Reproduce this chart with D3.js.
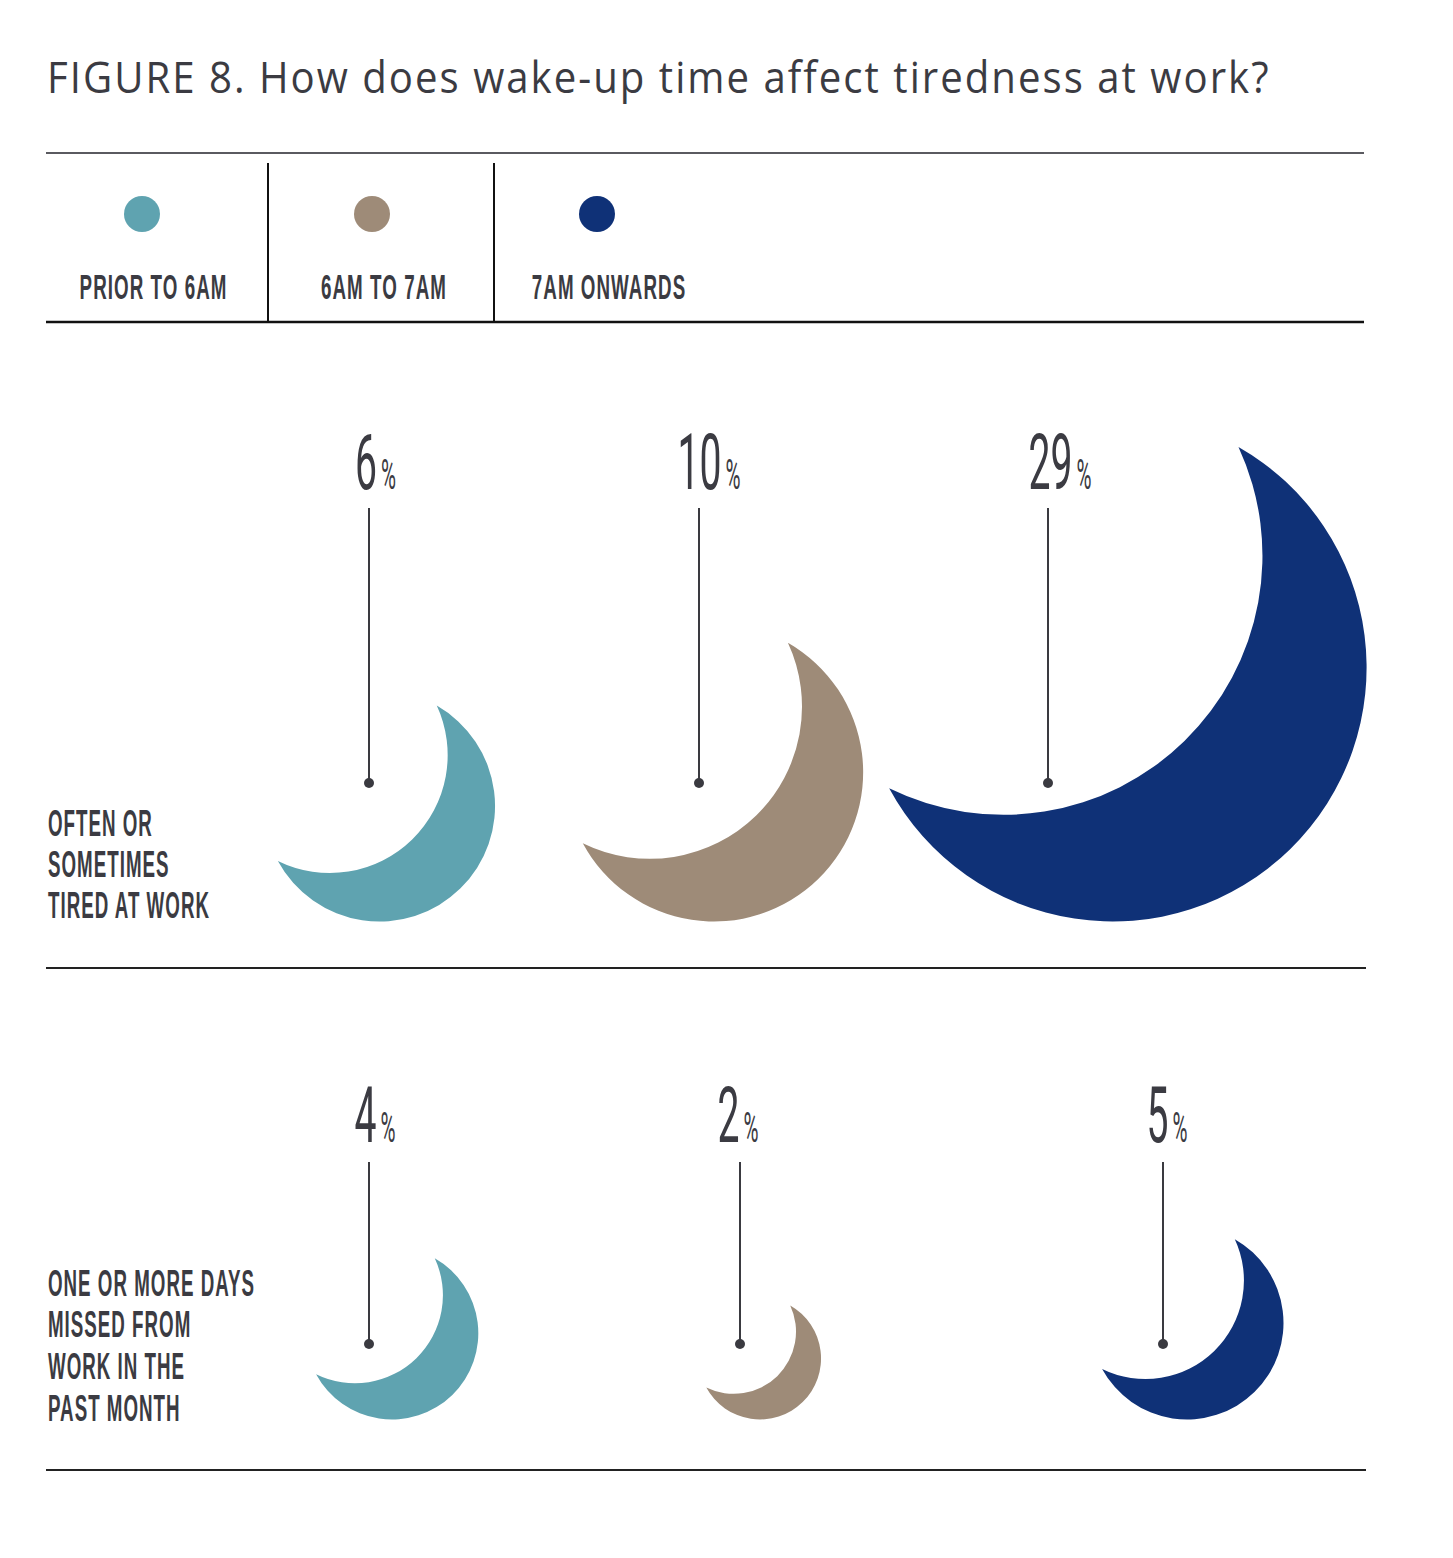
<!DOCTYPE html>
<html>
<head>
<meta charset="utf-8">
<script src="https://cdn.jsdelivr.net/npm/d3@7"></script>
<style>
  html, body { margin: 0; padding: 0; background: #ffffff; }
  svg { display: block; }
</style>
</head>
<body>
<div id="chart"></div>
<script>
// ---------------- DATA ----------------
const titleText = "FIGURE 8. How does wake-up time affect tiredness at work?";
const categories = ["PRIOR TO 6AM", "6AM TO 7AM", "7AM ONWARDS"];
const categoryColors = ["#5fa3b0", "#9e8b78", "#0f3177"];
const tiredValues = [6, 10, 29];          // often or sometimes tired at work (%)
const missedValues = [4, 2, 5];           // one or more days missed in past month (%)
const tiredLabel = ["OFTEN OR", "SOMETIMES", "TIRED AT WORK"];
const missedLabel = ["ONE OR MORE DAYS", "MISSED FROM", "WORK IN THE", "PAST MONTH"];

// ---------------- LAYOUT ----------------
const W = 1453, H = 1558;
const textColor = "#3b3b42";
const numFont = "Roboto, 'Noto Sans', sans-serif";
const labFont = "'Liberation Sans', Arial, sans-serif";

const svg = d3.select("#chart").append("svg")
  .attr("width", W).attr("height", H)
  .attr("viewBox", `0 0 ${W} ${H}`);

const colorScale = d3.scaleOrdinal().domain(categories).range(categoryColors);

// helper: measure natural width of a string in a given font
function measure(str, size, weight, family, spacing) {
  const t = svg.append("text").attr("font-size", size).attr("font-weight", weight)
    .attr("font-family", family).attr("letter-spacing", spacing || 0)
    .attr("x", -9999).attr("y", -9999).text(str);
  const w = t.node().getComputedTextLength();
  t.remove();
  return w;
}

// Title
const titleSize = 44, titleSpacing = 2.2;
const titleFont = "'Open Sans', 'Noto Sans', sans-serif";
const titleNat = measure(titleText, titleSize, 400, titleFont, titleSpacing);
const titleSx = (1271 - 47) / titleNat;
svg.append("text")
  .attr("transform", `translate(47,93) scale(${titleSx},1)`)
  .attr("font-family", titleFont).attr("font-size", titleSize).attr("font-weight", 400)
  .attr("letter-spacing", titleSpacing)
  .attr("fill", textColor)
  .text(titleText);

// condensing factors calibrated on reference strings
const labelSize = 35.5, labelWeight = 700, labelSpacing = 2;
const labelSx = 148 / measure("PRIOR TO 6AM", labelSize, labelWeight, labFont, labelSpacing);
const rowLabelSize = 36.9;
const rowSx = 162 / measure("TIRED AT WORK", rowLabelSize, labelWeight, labFont, labelSpacing);
const numSize = 77, numWeight = 400;
const numSx = 44 / measure("29", numSize, numWeight, numFont);
const pctSize = 42;
const pctSx = 15 / measure("%", pctSize, 400, numFont);

// Rules
const rules = [
  { y: 153, x1: 46, x2: 1364, c: "#5a5a60", w: 2 },
  { y: 322, x1: 46, x2: 1364, c: "#111111", w: 2.4 },
  { y: 968, x1: 46, x2: 1366, c: "#222222", w: 2.2 },
  { y: 1470, x1: 46, x2: 1366, c: "#222222", w: 2.2 }
];
svg.selectAll("line.rule").data(rules).join("line").attr("class", "rule")
  .attr("x1", d => d.x1).attr("x2", d => d.x2).attr("y1", d => d.y).attr("y2", d => d.y)
  .attr("stroke", d => d.c).attr("stroke-width", d => d.w);

// Legend
const legendCell = d3.scaleOrdinal().domain(categories).range([46, 268, 494]);
svg.selectAll("line.sep").data(categories.slice(1)).join("line").attr("class", "sep")
  .attr("x1", d => legendCell(d)).attr("x2", d => legendCell(d))
  .attr("y1", 163).attr("y2", 322)
  .attr("stroke", "#111").attr("stroke-width", 2);
const legendCircleX = d3.scaleOrdinal().domain(categories).range([142, 372, 597]);
const legendTextX = d3.scaleOrdinal().domain(categories).range([153.5, 384, 609]);
svg.selectAll("circle.leg").data(categories).join("circle").attr("class", "leg")
  .attr("cx", d => legendCircleX(d)).attr("cy", 214).attr("r", 18)
  .attr("fill", d => colorScale(d));
svg.selectAll("text.leg").data(categories).join("text").attr("class", "leg")
  .attr("transform", d => `translate(${legendTextX(d)},299) scale(${labelSx},1)`)
  .attr("text-anchor", "middle")
  .attr("font-family", labFont).attr("font-size", labelSize).attr("font-weight", labelWeight)
  .attr("letter-spacing", labelSpacing)
  .attr("fill", textColor)
  .text(d => d);

// Rows of crescents
const rows = [
  {
    values: tiredValues, label: tiredLabel,
    r: d3.scaleSqrt().domain([0, 29]).range([0, 254]),
    lineX: d3.scaleOrdinal().domain(categories).range([369, 699, 1048]),
    moonX: d3.scaleOrdinal().domain(categories).range([379.5, 714, 1112.6]),
    base: 921.5, numBase: 488.5, lineTop: 508, dotY: 783,
    labelBase: 835.7, labelStep: 41.3
  },
  {
    values: missedValues, label: missedLabel,
    r: d3.scaleSqrt().domain([0, 5]).range([0, 96.5]),
    lineX: d3.scaleOrdinal().domain(categories).range([369, 740, 1163]),
    moonX: d3.scaleOrdinal().domain(categories).range([392, 760, 1187]),
    base: 1419.5, numBase: 1142, lineTop: 1162, dotY: 1344,
    labelBase: 1295.7, labelStep: 41.7
  }
];
const labelShift = [[6.5, 10, 12], [6, -2, 4]];

function crescentPath(cx, cy, R) {
  const ox = -0.43 * R, oy = -0.44 * R, r2 = 1.02 * R;
  const d = Math.hypot(ox, oy);
  const a = (R * R - r2 * r2 + d * d) / (2 * d);
  const h = Math.sqrt(R * R - a * a);
  const ux = ox / d, uy = oy / d;
  const px = -uy, py = ux;
  const mx = cx + a * ux, my = cy + a * uy;
  const p1 = [mx + h * px, my + h * py];   // upper tip
  const p2 = [mx - h * px, my - h * py];   // left tip
  return `M${p1[0]},${p1[1]} A${R},${R} 0 1 1 ${p2[0]},${p2[1]} A${r2},${r2} 0 0 0 ${p1[0]},${p1[1]} Z`;
}

rows.forEach((row, ri) => {
  const g = svg.append("g").attr("class", "row" + ri);
  const items = categories.map((c, i) => ({ cat: c, v: row.values[i], i }));

  // crescents
  g.selectAll("path.moon").data(items).join("path").attr("class", "moon")
    .attr("d", d => {
      const R = row.r(d.v);
      return crescentPath(row.moonX(d.cat), row.base - R, R);
    })
    .attr("fill", d => colorScale(d.cat));

  // leader lines + dots
  g.selectAll("line.lead").data(items).join("line").attr("class", "lead")
    .attr("x1", d => row.lineX(d.cat)).attr("x2", d => row.lineX(d.cat))
    .attr("y1", row.lineTop).attr("y2", row.dotY)
    .attr("stroke", "#3a3a40").attr("stroke-width", 2);
  g.selectAll("circle.dot").data(items).join("circle").attr("class", "dot")
    .attr("cx", d => row.lineX(d.cat)).attr("cy", row.dotY).attr("r", 5)
    .attr("fill", "#3a3a40");

  // value labels
  items.forEach(d => {
    const numStr = String(d.v);
    const nw = measure(numStr, numSize, numWeight, numFont) * numSx;
    const pw = measure("%", pctSize, 400, numFont) * pctSx;
    const gap = 4;
    const total = nw + gap + pw;
    const left = row.lineX(d.cat) + labelShift[ri][d.i] - total / 2;
    g.append("text")
      .attr("transform", `translate(${left},${row.numBase}) scale(${numSx},1)`)
      .attr("font-family", numFont).attr("font-size", numSize).attr("font-weight", numWeight)
      .attr("fill", textColor).text(numStr);
    g.append("text")
      .attr("transform", `translate(${left + nw + gap},${row.numBase}) scale(${pctSx},1)`)
      .attr("font-family", numFont).attr("font-size", pctSize).attr("font-weight", 400)
      .attr("fill", textColor).text("%");
  });

  // row label (one multi-line text)
  const lab = g.append("text").attr("class", "rowlab")
    .attr("transform", `translate(48,${row.labelBase}) scale(${rowSx},1)`)
    .attr("font-family", labFont).attr("font-size", rowLabelSize).attr("font-weight", labelWeight)
    .attr("letter-spacing", labelSpacing)
    .attr("fill", textColor);
  lab.selectAll("tspan").data(row.label).join("tspan")
    .attr("x", 0).attr("y", (d, i) => i * row.labelStep)
    .text(d => d);
});
</script>
</body>
</html>
